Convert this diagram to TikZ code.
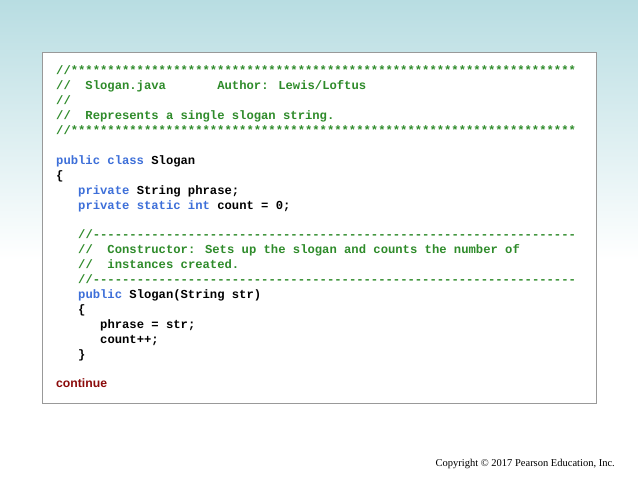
\documentclass[tikz,border=0pt]{standalone}
\usepackage{fontspec}
\newfontfamily\codefont[Ligatures=NoCommon]{Liberation Mono}
\newfontfamily\sansf{Liberation Sans}
\newfontfamily\seriff{Liberation Serif}
\ExplSyntaxOn
\newcommand\rep[2]{\prg_replicate:nn{#1}{#2}}
\ExplSyntaxOff
\newcommand\sps[1]{\hspace*{\dimexpr#1\dimexpr7.33pt\relax\relax}}
\definecolor{cgreen}{HTML}{2E8B2A}
\definecolor{cblue}{HTML}{3D6FD9}
\definecolor{cred}{HTML}{8B0A0A}
\definecolor{bgblue}{HTML}{B8DDE2}
\newcommand\cm[1]{\textcolor{cgreen}{#1}}
\newcommand\kw[1]{\textcolor{cblue}{#1}}
\tikzset{codeline/.style={anchor=base west,inner sep=0pt,font=\codefont\bfseries\fontsize{12.2}{14}\selectfont}}
\begin{document}
\begin{tikzpicture}[x=1pt,y=-1pt]
\useasboundingbox (0,0) rectangle (638,478);
\shade[top color=bgblue,bottom color=white] (0,0) rectangle (638,260);
\fill[white] (0,259) rectangle (638,478);
\node[draw=gray!80,line width=0.8pt,fill=white,minimum width=554pt,minimum height=351pt,anchor=north west,inner sep=0pt] (box) at (42,52) {};
\def\L#1#2#3{\node[codeline] (l#1) at (#2,{75+#1*14.9}) {#3};}
\L{0}{56}{\cm{//\rep{69}{*}}}
\L{1}{56}{\cm{//\sps{2}Slogan.java\sps{7}Author: Lewis/Loftus}}
\L{2}{56}{\cm{//}}
\L{3}{56}{\cm{//\sps{2}Represents a single slogan string.}}
\L{4}{56}{\cm{//\rep{69}{*}}}
\L{6}{56}{\kw{public class} Slogan}
\L{7}{56}{\{}
\L{8}{56}{\sps{3}\kw{private} String phrase;}
\L{9}{56}{\sps{3}\kw{private static int} count = 0;}
\L{11}{56}{\sps{3}\cm{//\rep{66}{{-}}}}
\L{12}{56}{\sps{3}\cm{//\sps{2}Constructor: Sets up the slogan and counts the number of}}
\L{13}{56}{\sps{3}\cm{//\sps{2}instances created.}}
\L{14}{56}{\sps{3}\cm{//\rep{66}{{-}}}}
\L{15}{56}{\sps{3}\kw{public} Slogan(String str)}
\L{16}{56}{\sps{3}\{}
\L{17}{56}{\sps{6}phrase = str;}
\L{18}{56}{\sps{6}count++;}
\L{19}{56}{\sps{3}\}}
\node[anchor=base west,inner sep=0pt,font=\sansf\bfseries\fontsize{12.2}{14}\selectfont,text=cred] (cont) at (56,{75+21*14.9}) {continue};
\node[anchor=base east,inner sep=0pt,font=\seriff\fontsize{10.5}{12}\selectfont] (copy) at (615,467) {Copyright © 2017 Pearson Education, Inc.};
\end{tikzpicture}
\end{document}
